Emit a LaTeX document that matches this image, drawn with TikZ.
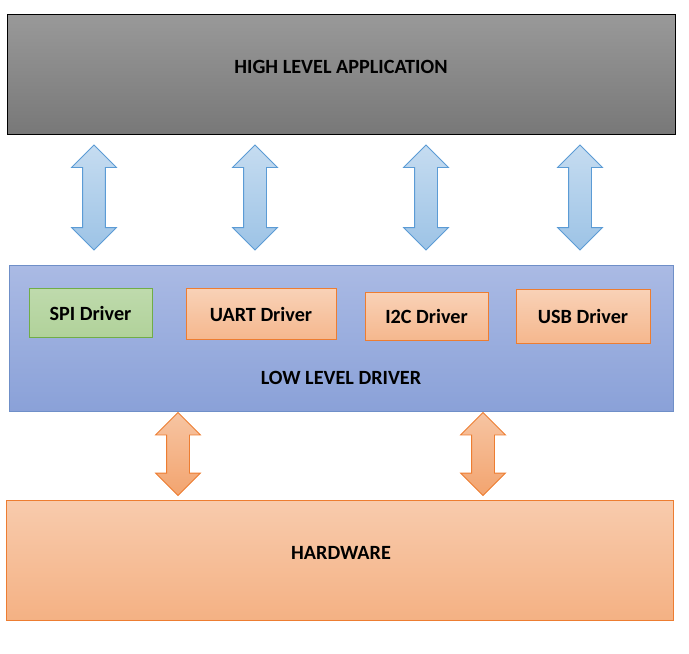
\documentclass[tikz,border=0pt]{standalone}
\usepackage{fontspec}
\setmainfont{Carlito}
\usetikzlibrary{shapes.arrows,positioning}
\definecolor{drvorange}{HTML}{ED7D31}
\definecolor{drvgreen}{HTML}{70AD47}
\definecolor{drvblue}{HTML}{6F8FC8}
\definecolor{arrblue}{HTML}{5B9BD5}
\tikzset{x=0.02cm,y=-0.02cm,
  lbl/.style={font=\fontsize{11.5}{13}\selectfont\bfseries},
  layer/.style={draw=#1,line width=0.6pt,anchor=north west,inner sep=0pt},
  drv/.style={lbl,draw=drvorange,line width=0.5pt,top color=drvorange!35!white,
    bottom color=drvorange!55!white,inner sep=0pt},
  updown/.style={double arrow,shape border rotate=90,inner xsep=0.22cm,inner ysep=0pt,
    double arrow head extend=0.22cm,line width=0.5pt},
  bluearrow/.style={updown,draw=arrblue,top color=arrblue!35!white,bottom color=arrblue!60!white},
  redarrow/.style={updown,draw=drvorange,top color=drvorange!45!white,bottom color=drvorange!70!white}}
\begin{document}
\begin{tikzpicture}
  \useasboundingbox (0,0) rectangle (689,653);
  % layers
  \node[layer=black,top color=black!40,bottom color=black!53,minimum width=668*0.02cm,
    minimum height=120*0.02cm] (app) at (7,14) {};
  \node[lbl] at (341,67) {HIGH LEVEL APPLICATION};
  \node[layer=drvblue,top color={rgb,255:red,170;green,186;blue,228},
    bottom color={rgb,255:red,138;green,161;blue,216},
    minimum width=664*0.02cm,minimum height=146*0.02cm] (low) at (9,265) {};
  \node[lbl] at (341,378) {LOW LEVEL DRIVER};
  \node[layer=drvorange,top color=drvorange!40!white,bottom color=drvorange!60!white,
    minimum width=667*0.02cm,minimum height=120*0.02cm] (hw) at (6,500) {};
  \node[lbl] at (341,553) {HARDWARE};
  % drivers
  \node[drv,draw=drvgreen,top color=drvgreen!45!white,bottom color=drvgreen!55!white,
    minimum width=123*0.02cm,minimum height=49*0.02cm] (spi) at (90.5,313) {SPI Driver};
  \node[drv,minimum width=150*0.02cm,minimum height=51*0.02cm] (uart) at (261,314) {UART Driver};
  \node[drv,minimum width=123*0.02cm,minimum height=48*0.02cm] (i2c) at (426.5,316) {I2C Driver};
  \node[drv,minimum width=134*0.02cm,minimum height=54*0.02cm] (usb) at (583,316) {USB Driver};
  % arrows
  \foreach \x/\n in {94/a,255/b,426/c,580/d}
    \node[bluearrow,minimum height=105*0.02cm] (up\n) at (\x,197.5) {};
  \foreach \x/\n in {178/a,483/b}
    \node[redarrow,minimum height=83*0.02cm] (hw\n) at (\x,454) {};
\end{tikzpicture}
\end{document}
